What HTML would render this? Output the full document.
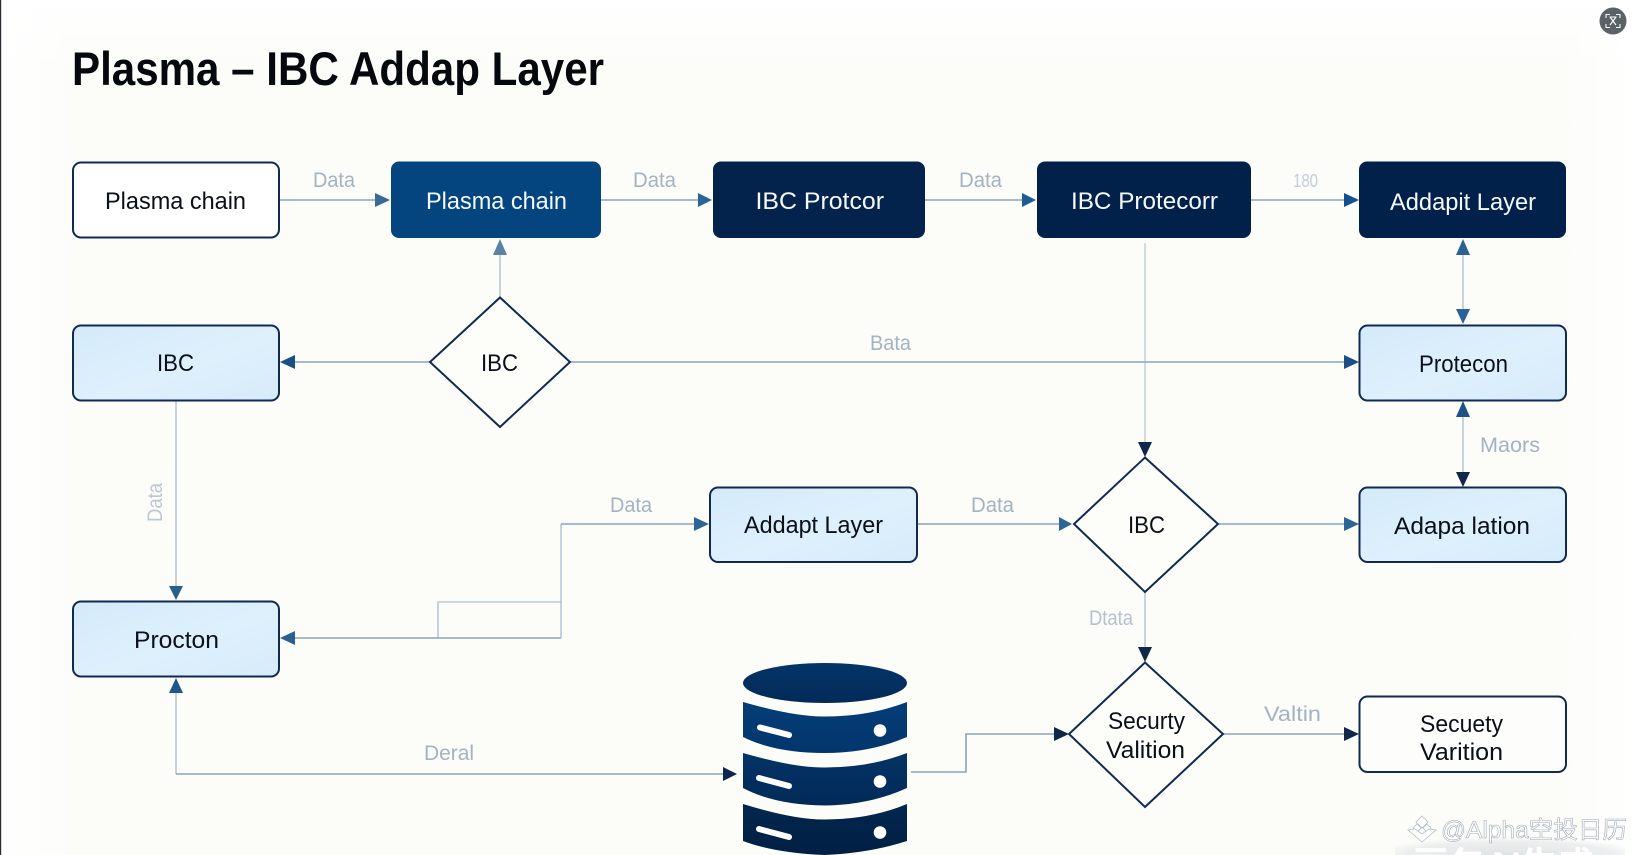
<!DOCTYPE html>
<html>
<head>
<meta charset="utf-8">
<style>
html,body{margin:0;padding:0;background:#fff;width:1634px;height:855px;overflow:hidden}
svg{display:block}
text{font-family:"Liberation Sans","Noto Sans CJK SC",sans-serif}
.n{font-size:24px;fill:#0a0f18;text-anchor:start}
.w{font-size:24px;fill:#f6f9fc;text-anchor:start}
.e{font-size:21px;fill:#a3b3c3;text-anchor:start}
.l{fill:none;stroke:#8aa3ba;stroke-width:1.6}
.t{fill:none;stroke:#9db1c4;stroke-width:1.1}
</style>
</head>
<body>
<svg width="1634" height="855" viewBox="0 0 1634 855" xmlns="http://www.w3.org/2000/svg">
<defs>
<linearGradient id="ft" x1="0" y1="0" x2="0" y2="1"><stop offset="0" stop-color="#fff"/><stop offset="1" stop-color="#fff" stop-opacity="0"/></linearGradient>
<linearGradient id="fl" x1="0" y1="0" x2="1" y2="0"><stop offset="0" stop-color="#fff"/><stop offset="1" stop-color="#fff" stop-opacity="0"/></linearGradient>
<linearGradient id="fr" x1="1" y1="0" x2="0" y2="0"><stop offset="0" stop-color="#fff"/><stop offset="1" stop-color="#fff" stop-opacity="0"/></linearGradient>
<radialGradient id="wm" cx=".5" cy="1" r=".6"><stop offset="0" stop-color="#dfe3e4"/><stop offset=".75" stop-color="#e6e9ea" stop-opacity=".7"/><stop offset="1" stop-color="#e6e9ea" stop-opacity="0"/></radialGradient>
<linearGradient id="lb" x1="0" y1="0" x2="1" y2="1"><stop offset="0" stop-color="#d4eafa"/><stop offset=".55" stop-color="#deF0fc"/><stop offset="1" stop-color="#d6ebfa"/></linearGradient>
<linearGradient id="top" x1="0" y1="0" x2="0" y2="1"><stop offset="0" stop-color="#043468"/><stop offset="1" stop-color="#022a57"/></linearGradient>
<linearGradient id="b1" x1="0" y1="0" x2="0" y2="1"><stop offset="0" stop-color="#043d77"/><stop offset="1" stop-color="#03366c"/></linearGradient>
<linearGradient id="b2" x1="0" y1="0" x2="0" y2="1"><stop offset="0" stop-color="#033365"/><stop offset="1" stop-color="#022a58"/></linearGradient>
<linearGradient id="b3" x1="0" y1="0" x2="0" y2="1"><stop offset="0" stop-color="#02274f"/><stop offset="1" stop-color="#011f43"/></linearGradient>
</defs>

<rect width="1634" height="855" fill="#fcfcf9"/>
<rect x="0" y="0" width="1634" height="70" fill="url(#ft)"/>
<rect x="0" y="0" width="80" height="855" fill="url(#fl)"/>
<rect x="1560" y="0" width="74" height="855" fill="url(#fr)"/>
<rect x="0" y="0" width="1.2" height="855" fill="#2a2d33"/>

<text x="72" y="85" font-size="47" font-weight="700" fill="#05080d" textLength="532" lengthAdjust="spacingAndGlyphs">Plasma – IBC Addap Layer</text>

<!-- connector lines -->
<path class="l" d="M279 200H376"/>
<path class="l" d="M601 200H699"/>
<path class="l" d="M925 200H1023"/>
<path class="l" d="M1251 200H1345"/>
<path class="t" d="M500 297V254"/>
<path class="l" d="M430 362H294"/>
<path class="l" d="M570 362H1345"/>
<path class="t" d="M1145 243V443" style="stroke-width:.9"/>
<path class="t" d="M1463 254V310"/>
<path class="t" d="M1463 416V473"/>
<path class="t" d="M176 401V587"/>
<path class="l" d="M561 638H294"/>
<path class="t" d="M561 638V524"/>
<path class="l" d="M561 524H695"/>
<path class="t" d="M438 638V602H561"/>
<path class="t" d="M176 692V774"/>
<path class="l" d="M176 774H724"/>
<path class="l" d="M911 772H966V734H1055"/>
<path class="l" d="M917 524H1060"/>
<path class="l" d="M1218 524H1345"/>
<path class="t" d="M1145 592V648"/>
<path class="l" d="M1223 734H1345"/>

<!-- arrowheads -->
<polygon points="390,200 375,193 375,207" fill="#3a6b97"/>
<polygon points="712,200 698,193 698,207" fill="#2b6497"/>
<polygon points="1036,200 1022,193 1022,207" fill="#1c5b96"/>
<polygon points="1359,200 1344,193 1344,207" fill="#14508b"/>
<polygon points="500,239 493,255 507,255" fill="#5b81a4"/>
<polygon points="280,362 295,355 295,369" fill="#1b4e85"/>
<polygon points="1359,362 1344,355 1344,369" fill="#1b4e85"/>
<polygon points="1145,457 1138,442 1152,442" fill="#0f2749"/>
<polygon points="1463,239 1456,255 1470,255" fill="#2a6296"/>
<polygon points="1463,324 1456,309 1470,309" fill="#2a6296"/>
<polygon points="1463,401 1456,417 1470,417" fill="#1c5288"/>
<polygon points="1463,487 1456,472 1470,472" fill="#0f2749"/>
<polygon points="176,600 169,586 183,586" fill="#2a5f8f"/>
<polygon points="280,638 295,631 295,645" fill="#2a5f8f"/>
<polygon points="709,524 694,517 694,531" fill="#2f6595"/>
<polygon points="176,678 169,693 183,693" fill="#1f5588"/>
<polygon points="737,774 723,767 723,781" fill="#0f2749"/>
<polygon points="1072,524 1059,517 1059,531" fill="#2f6595"/>
<polygon points="1359,524 1344,517 1344,531" fill="#2b6497"/>
<polygon points="1145,662 1138,647 1152,647" fill="#0f2749"/>
<polygon points="1069,734 1054,727 1054,741" fill="#0f2749"/>
<polygon points="1359,734 1344,727 1344,741" fill="#0f2749"/>

<!-- nodes -->
<rect x="73" y="162.500" width="206" height="75" rx="8" fill="#ffffff" stroke="#102a50" stroke-width="2"/>
<rect x="391" y="161.500" width="210" height="76.500" rx="8" fill="#04447f"/>
<rect x="713" y="161.500" width="212" height="76.500" rx="8" fill="#03234c"/>
<rect x="1037" y="161.500" width="214" height="76.500" rx="8" fill="#02214a"/>
<rect x="1359" y="161.500" width="207" height="76.500" rx="8" fill="#02214a"/>
<rect x="73" y="325.500" width="206" height="75" rx="8" fill="url(#lb)" stroke="#102a50" stroke-width="2"/>
<rect x="1359.500" y="325.500" width="206.500" height="75" rx="8" fill="url(#lb)" stroke="#102a50" stroke-width="2"/>
<rect x="73" y="601.500" width="206" height="75" rx="8" fill="url(#lb)" stroke="#102a50" stroke-width="2"/>
<rect x="710" y="487.500" width="207" height="74.500" rx="8" fill="url(#lb)" stroke="#102a50" stroke-width="2"/>
<rect x="1359.500" y="487.500" width="206.500" height="74.500" rx="8" fill="url(#lb)" stroke="#102a50" stroke-width="2"/>
<rect x="1359.500" y="696.500" width="206.500" height="75.500" rx="8" fill="#fdfdfc" stroke="#102a50" stroke-width="2"/>

<polygon points="500,297.500 570,362 500,427 430,362" fill="#fdfdf9" stroke="#102a50" stroke-width="2"/>
<polygon points="1145,457.500 1218,524 1145,592 1074,524" fill="#fdfdf9" stroke="#102a50" stroke-width="2"/>
<polygon points="1145,662.500 1223,734 1145,807 1069,734" fill="#fdfdf9" stroke="#102a50" stroke-width="2"/>

<!-- database -->
<ellipse cx="825" cy="683" rx="82" ry="20" fill="url(#top)"/>
<path d="M743 702Q795 717 825 716.500Q870 716.500 907 702V737Q870 753 825 753Q775 753 743 737Z" fill="url(#b1)"/>
<path d="M743 753Q795 768 825 767.500Q870 767.500 907 753V788Q870 805 825 805.500Q775 805 743 788Z" fill="url(#b2)"/>
<path d="M743 804Q795 820 825 819.500Q870 819.500 907 804V841Q870 853 825 855Q775 853 743 841Z" fill="url(#b3)"/>
<g stroke="#fff" stroke-width="6" stroke-linecap="round">
<path d="M760 727.500L789 735"/>
<path d="M759 778L789 786"/>
<path d="M759 829L789 837"/>
</g>
<circle cx="880" cy="730.500" r="6.300" fill="#fff"/>
<circle cx="880" cy="781.500" r="6.300" fill="#fff"/>
<circle cx="880" cy="832.500" r="6.300" fill="#fff"/>

<!-- node labels -->
<text class="n" x="105" y="209" textLength="141" lengthAdjust="spacingAndGlyphs">Plasma chain</text>
<text class="w" x="426" y="209" textLength="141" lengthAdjust="spacingAndGlyphs">Plasma chain</text>
<text class="w" x="755.500" y="209" textLength="128.500" lengthAdjust="spacingAndGlyphs">IBC Protcor</text>
<text class="w" x="1071" y="209" textLength="147" lengthAdjust="spacingAndGlyphs">IBC Protecorr</text>
<text class="w" x="1390" y="210" textLength="146" lengthAdjust="spacingAndGlyphs">Addapit Layer</text>
<text class="n" x="157" y="371" textLength="37" lengthAdjust="spacingAndGlyphs">IBC</text>
<text class="n" x="481" y="371" textLength="37" lengthAdjust="spacingAndGlyphs">IBC</text>
<text class="n" x="1419" y="372" textLength="89" lengthAdjust="spacingAndGlyphs">Protecon</text>
<text class="n" x="134" y="648" textLength="85" lengthAdjust="spacingAndGlyphs">Procton</text>
<text class="n" x="744" y="533" textLength="139" lengthAdjust="spacingAndGlyphs">Addapt Layer</text>
<text class="n" x="1128" y="533" textLength="37" lengthAdjust="spacingAndGlyphs">IBC</text>
<text class="n" x="1394" y="534" textLength="136" lengthAdjust="spacingAndGlyphs">Adapa lation</text>
<text class="n" x="1108" y="729" textLength="77" lengthAdjust="spacingAndGlyphs">Securty</text>
<text class="n" x="1106" y="758" textLength="79" lengthAdjust="spacingAndGlyphs">Valition</text>
<text class="n" x="1420" y="732" textLength="83" lengthAdjust="spacingAndGlyphs">Secuety</text>
<text class="n" x="1420" y="760" textLength="83" lengthAdjust="spacingAndGlyphs">Varition</text>

<!-- connector labels -->
<text class="e" x="313" y="187" textLength="42" lengthAdjust="spacingAndGlyphs">Data</text>
<text class="e" x="633" y="187" textLength="43" lengthAdjust="spacingAndGlyphs">Data</text>
<text class="e" x="959" y="187" textLength="43" lengthAdjust="spacingAndGlyphs">Data</text>
<text class="e" x="1293" y="187" style="font-size:18px;fill:#c3ced8" textLength="25" lengthAdjust="spacingAndGlyphs">180</text>
<text class="e" x="870" y="350" textLength="41" lengthAdjust="spacingAndGlyphs">Bata</text>
<text class="e" transform="translate(162,522) rotate(-90)" textLength="39" lengthAdjust="spacingAndGlyphs" style="fill:#bcc8d3">Data</text>
<text class="e" x="610" y="512" textLength="42" lengthAdjust="spacingAndGlyphs">Data</text>
<text class="e" x="971" y="512" textLength="43" lengthAdjust="spacingAndGlyphs">Data</text>
<text class="e" x="1480" y="452" textLength="60" lengthAdjust="spacingAndGlyphs">Maors</text>
<text class="e" x="1089" y="625" textLength="44" lengthAdjust="spacingAndGlyphs" style="fill:#b4c2cf">Dtata</text>
<text class="e" x="1264" y="721" textLength="57" lengthAdjust="spacingAndGlyphs">Valtin</text>
<text class="e" x="424" y="760" textLength="50" lengthAdjust="spacingAndGlyphs">Deral</text>

<!-- watermark -->
<rect x="1395" y="825" width="230" height="30" fill="url(#wm)"/>
<svg x="1400" y="840" width="210" height="15" viewBox="1400 840 210 15" overflow="hidden">
<text x="1413" y="876" font-size="34" font-weight="700" fill="#ffffff" textLength="180" lengthAdjust="spacingAndGlyphs">豆包AI生成</text>
</svg>
<g fill="#fff" stroke="#b3bec6" stroke-width=".8">
<polygon points="1422,816 1428,822 1422,828 1416,822"/>
<polygon points="1413,828 1417,824 1421,828 1417,832"/>
<polygon points="1423,828 1427,824 1431,828 1427,832"/>
<polygon points="1422,834 1429,829 1436,830 1422,842 1408,830 1415,829"/>
</g>
<text x="1441" y="838" font-size="24" fill="#ffffff" stroke="#9fadb7" stroke-width=".6" textLength="186" lengthAdjust="spacingAndGlyphs">@Alpha空投日历</text>

<!-- top-right button -->
<circle cx="1613" cy="21" r="13.500" fill="#5b6267"/>
<g fill="none" stroke="#fff" stroke-width="1.100">
<path d="M1606 18V14.500H1610M1616 14.500H1620V18M1620 24V27.500H1616M1610 27.500H1606V24"/>
<path d="M1609.500 17H1616.500M1610 25L1616 17M1616 25L1610 17"/>
</g>
</svg>
</body>
</html>
